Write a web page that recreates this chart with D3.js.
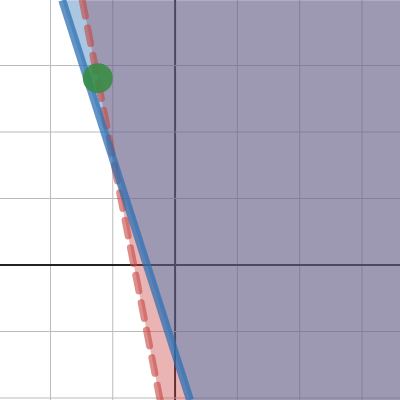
<!DOCTYPE html>
<html><head><meta charset="utf-8">
<script src="https://cdn.jsdelivr.net/npm/d3@7"></script>
<style>body{margin:0;background:#fff}svg{display:block}</style>
</head><body>
<script>
const xTicks=[-2,-1,0,1,2,3];
const yTicks=[-2,-1,0,1,2,3,4];
const blueLine=[[-1.81,3.98],[0.24,-2.03]];
const redLine=[[-1.49,3.98],[-0.24,-2.03]];
const point=[-1.24,2.81];
const W=400,H=400;
const x=d3.scaleLinear().domain([-2.81,3.61]).range([0,W]);
const y=d3.scaleLinear().domain([3.985,-2.03]).range([0,H]);
const svg=d3.select("body").append("svg").attr("width",W).attr("height",H);
svg.selectAll(".gx").data(xTicks).join("line").attr("x1",d=>x(d)).attr("x2",d=>x(d)).attr("y1",0).attr("y2",H)
 .attr("stroke",d=>d===0?"#222":"#bbb").attr("stroke-width",d=>d===0?2:1);
svg.selectAll(".gy").data(yTicks).join("line").attr("y1",d=>y(d)).attr("y2",d=>y(d)).attr("x1",0).attr("x2",W)
 .attr("stroke",d=>d===0?"#222":"#bbb").attr("stroke-width",d=>d===0?2:1);
function region(l){return [[x(l[0][0]),y(l[0][1])],[W,y(l[0][1])],[W,y(l[1][1])],[x(l[1][0]),y(l[1][1])]];}
const line=d3.line();
svg.append("path").attr("d",line(region(redLine))+"Z").attr("fill","#c74440").attr("fill-opacity",0.4);
svg.append("path").attr("d",line(region(blueLine))+"Z").attr("fill","#2d70b3").attr("fill-opacity",0.4);
svg.append("path").attr("d",line(redLine.map(p=>[x(p[0]),y(p[1])]))).attr("stroke","#c74440").attr("stroke-opacity",0.6)
 .attr("stroke-width",7).attr("stroke-dasharray","16 12").attr("stroke-linecap","round").attr("fill","none");
svg.append("path").attr("d",line(blueLine.map(p=>[x(p[0]),y(p[1])]))).attr("stroke","#2d70b3").attr("stroke-opacity",0.75)
 .attr("stroke-width",8).attr("fill","none");
svg.append("circle").attr("cx",x(point[0])).attr("cy",y(point[1])).attr("r",15).attr("fill","#388c46").attr("fill-opacity",0.9);
</script>
</body></html>
